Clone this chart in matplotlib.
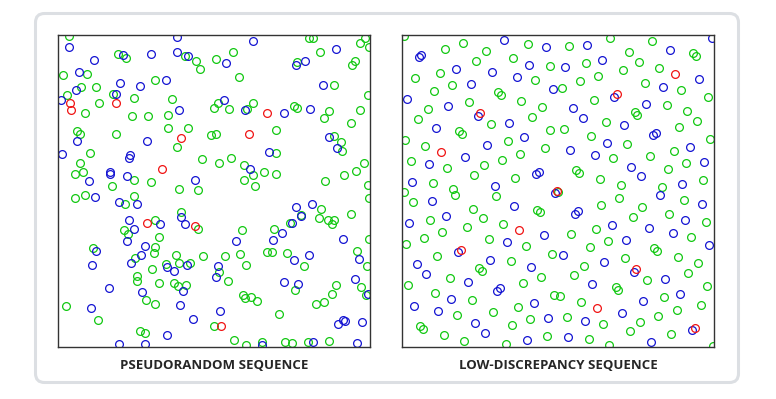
import numpy as np
import matplotlib
matplotlib.use("Agg")
import matplotlib.pyplot as plt
from matplotlib.patches import FancyBboxPatch

# point positions, panel units (0..312, y grows downward)
titles = ["PSEUDORANDOM SEQUENCE", "LOW-DISCREPANCY SEQUENCE"]

rand_green = [
    (11, 1), (60, 19), (68, 23), (127, 21), (138, 26), (142, 34), (158, 24), (29, 39), (5, 40),
    (97, 45), (23, 52), (38, 52), (9, 60), (55, 59), (41, 68), (76, 63), (114, 64), (27, 78),
    (74, 81), (90, 81), (110, 80), (156, 73), (160, 68), (19, 96), (22, 99), (58, 99), (110, 93),
    (130, 93), (153, 100), (158, 99), (119, 112), (32, 118), (22, 128), (144, 124), (161, 128),
    (17, 139), (25, 137), (76, 145), (93, 147), (54, 151), (121, 154), (140, 155), (27, 160),
    (76, 161), (17, 163), (67, 169), (123, 177), (140, 194), (97, 185), (66, 195), (70, 199),
    (101, 202), (35, 213), (97, 212), (96, 218), (77, 223), (118, 220), (145, 221), (108, 229),
    (121, 228), (132, 228), (94, 234), (79, 241), (79, 246), (101, 248), (116, 248), (120, 251),
    (128, 250), (88, 265), (97, 269), (8, 271), (40, 285), (156, 291), (82, 296), (87, 298),
    (251, 3), (255, 3), (307, 3), (302, 8), (311, 12), (175, 17), (262, 17), (239, 27), (297, 26),
    (294, 30), (181, 42), (276, 50), (310, 60), (171, 74), (195, 68), (189, 74), (236, 71),
    (239, 73), (271, 76), (266, 83), (302, 75), (293, 88), (218, 95), (276, 101), (283, 107),
    (284, 116), (218, 118), (173, 123), (186, 130), (195, 140), (206, 137), (218, 139), (186, 145),
    (197, 151), (267, 146), (286, 140), (298, 136), (306, 128), (310, 150), (311, 163), (263, 174),
    (243, 180), (261, 183), (270, 185), (276, 185), (274, 189), (293, 179), (232, 188), (184, 195),
    (216, 194), (311, 204), (209, 217), (214, 217), (229, 218), (182, 219), (167, 221), (299, 216),
    (246, 231), (188, 230), (161, 237), (170, 246), (309, 231), (237, 255), (278, 250), (303, 252),
    (274, 259), (308, 260), (185, 260), (187, 263), (193, 262), (199, 266), (258, 269), (266, 267),
    (221, 279), (176, 305), (188, 310), (204, 307), (227, 307), (234, 308), (250, 307), (271, 306),
]
rand_blue = [
    (119, 2), (11, 12), (65, 20), (93, 19), (119, 17), (130, 21), (36, 25), (21, 37), (62, 48),
    (82, 51), (108, 45), (18, 55), (58, 59), (3, 65), (121, 75), (19, 106), (89, 106), (4, 119),
    (72, 120), (71, 123), (52, 137), (52, 139), (69, 141), (31, 146), (137, 145), (37, 162),
    (61, 167), (79, 169), (123, 182), (127, 189), (71, 185), (102, 189), (76, 194), (69, 206),
    (38, 216), (87, 211), (83, 220), (73, 228), (109, 232), (129, 230), (116, 236), (34, 230),
    (160, 231), (158, 242), (125, 256), (51, 253), (84, 257), (122, 270), (33, 273), (162, 276),
    (135, 284), (109, 300), (61, 309), (87, 309), (195, 6), (168, 28), (278, 14), (247, 26),
    (238, 30), (265, 50), (166, 65), (187, 75), (226, 78), (252, 74), (271, 102), (279, 113),
    (211, 117), (192, 134), (238, 172), (254, 169), (243, 181), (234, 188), (224, 198), (215, 205),
    (178, 206), (285, 204), (251, 220), (301, 224), (236, 225), (226, 247), (240, 249), (297, 244),
    (310, 259), (280, 289), (285, 285), (287, 286), (304, 287), (204, 310), (255, 307), (299, 308),
]
rand_red = [
    (12, 68), (13, 75), (58, 68), (123, 103), (104, 134), (209, 78), (191, 99), (89, 188),
    (137, 191), (163, 291),
]

lowd_green = [
    (2, 1), (61, 8), (126, 9), (43, 14), (84, 16), (111, 23), (74, 26), (148, 31), (38, 38),
    (13, 43), (133, 45), (50, 50), (160, 53), (32, 56), (96, 57), (99, 60), (67, 67), (119, 66),
    (140, 72), (26, 74), (130, 82), (16, 84), (89, 89), (148, 95), (57, 96), (60, 99), (3, 105),
    (106, 106), (23, 111), (143, 113), (118, 119), (9, 126), (100, 125), (82, 130), (45, 133),
    (72, 140), (113, 143), (31, 148), (51, 154), (53, 160), (2, 157), (94, 161), (156, 157),
    (208, 3), (250, 6), (167, 11), (227, 17), (291, 18), (294, 21), (184, 28), (237, 27), (196, 41),
    (221, 35), (257, 33), (178, 46), (243, 48), (279, 55), (192, 65), (306, 62), (265, 70),
    (233, 77), (235, 80), (285, 76), (204, 87), (295, 86), (277, 92), (162, 94), (308, 104),
    (189, 101), (225, 109), (272, 116), (248, 121), (211, 123), (284, 128), (266, 134), (174, 135),
    (177, 138), (301, 145), (198, 144), (219, 150), (260, 152), (11, 167), (71, 174), (135, 175),
    (138, 177), (28, 185), (81, 183), (101, 189), (65, 192), (40, 197), (22, 203), (87, 204),
    (4, 209), (124, 211), (150, 219), (35, 221), (109, 226), (77, 233), (80, 236), (48, 243),
    (139, 242), (121, 248), (6, 250), (33, 258), (152, 260), (158, 261), (70, 265), (116, 272),
    (91, 277), (55, 280), (128, 284), (110, 290), (18, 291), (21, 294), (42, 300), (145, 301),
    (62, 306), (104, 309), (217, 163), (282, 165), (199, 170), (240, 172), (267, 179), (231, 182),
    (304, 187), (194, 194), (169, 199), (289, 202), (206, 206), (188, 212), (252, 213), (255, 216),
    (276, 222), (223, 223), (296, 228), (182, 231), (286, 238), (172, 240), (245, 245), (305, 251),
    (214, 252), (216, 255), (262, 262), (179, 267), (299, 270), (275, 275), (165, 282), (256, 281),
    (238, 287), (201, 289), (228, 296), (269, 299), (187, 304), (207, 310), (311, 311),
]
lowd_blue = [
    (102, 5), (144, 12), (17, 22), (19, 20), (127, 30), (163, 32), (54, 34), (90, 37), (115, 42),
    (69, 49), (151, 54), (5, 64), (46, 71), (76, 81), (107, 88), (34, 93), (122, 102), (85, 110),
    (63, 122), (27, 129), (137, 137), (134, 139), (10, 147), (93, 151), (153, 158), (310, 3),
    (185, 10), (268, 15), (200, 25), (297, 44), (261, 52), (212, 62), (244, 69), (171, 73),
    (181, 83), (222, 90), (254, 98), (251, 100), (205, 108), (288, 112), (168, 115), (193, 120),
    (302, 127), (229, 132), (239, 141), (280, 149), (258, 160), (30, 166), (112, 171), (44, 181),
    (7, 188), (142, 200), (105, 207), (56, 217), (161, 220), (88, 225), (15, 229), (129, 232),
    (24, 239), (66, 247), (98, 253), (95, 256), (49, 264), (132, 268), (12, 271), (36, 276),
    (146, 283), (73, 288), (83, 298), (125, 305), (300, 169), (173, 179), (176, 176), (283, 185),
    (210, 190), (247, 193), (271, 198), (224, 205), (307, 210), (202, 227), (232, 237), (263, 244),
    (190, 249), (278, 259), (241, 266), (220, 278), (183, 286), (290, 295), (166, 302), (249, 307),
]
lowd_red = [
    (78, 78), (39, 117), (155, 156), (273, 39), (215, 59), (117, 195), (59, 215), (234, 234),
    (195, 273), (293, 293),
]

colors = {"green": "#12c812", "blue": "#1414d2", "red": "#f01414"}
panels = [
    (rand_green, rand_blue, rand_red),
    (lowd_green, lowd_blue, lowd_red),
]

W, H = 776, 399
fig = plt.figure(figsize=(W / 100, H / 100), dpi=100)

# rounded frame round the whole picture
bg = fig.add_axes([0, 0, 1, 1])
bg.set_xlim(0, W)
bg.set_ylim(H, 0)
bg.axis("off")
bg.add_patch(FancyBboxPatch((35.5, 13.5), 703, 369, boxstyle="round,pad=0,rounding_size=9",
                            fc="none", ec="#dcdfe3", lw=2.2))

for i, (green, blue, red) in enumerate(panels):
    left = [58, 402][i]
    ax = fig.add_axes([left / W, (H - 347) / H, 312 / W, 312 / H])
    for pts, name in [(green, "green"), (blue, "blue"), (red, "red")]:
        p = np.array(pts)
        ax.plot(p[:, 0], p[:, 1], "o", ms=5.6, mfc="none", mec=colors[name], mew=0.9)
    ax.set_xlim(0, 312)
    ax.set_ylim(312, 0)
    ax.set_xticks([])
    ax.set_yticks([])
    for s in ax.spines.values():
        s.set_color("#333333")
        s.set_linewidth(1.0)
    fig.text((left + 156) / W, (H - 369) / H, titles[i], ha="center", va="baseline",
             family=["Open Sans", "DejaVu Sans"], weight="bold", fontsize=9.5, color="#262626")

fig.savefig("out.png", dpi=100)
